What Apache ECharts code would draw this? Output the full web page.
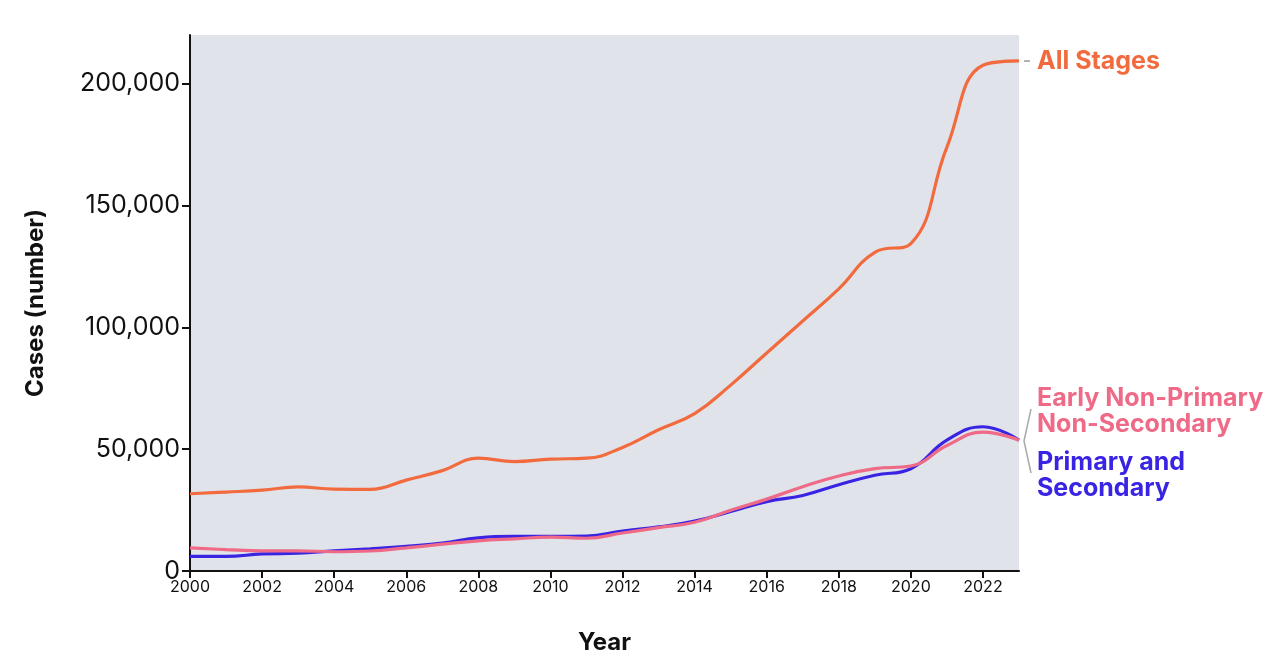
<!DOCTYPE html>
<html>
<head>
<meta charset="utf-8">
<script src="https://cdn.jsdelivr.net/npm/echarts@6/dist/echarts.min.js"></script>
<style>html,body{margin:0;padding:0;background:#fff}#c{width:1280px;height:672px}</style>
</head>
<body>
<div id="c"></div>
<script>
const years = [2000,2001,2002,2003,2004,2005,2006,2007,2008,2009,2010,2011,2012,2013,2014,2015,2016,2017,2018,2019,2020,2021,2022,2023];
const allStages = [31700,32400,33200,34500,33600,33500,37300,41200,46300,44900,45900,46300,50700,58000,64600,76300,89500,102600,115800,130800,134400,174000,207600,209400];
const earlyNonPrimary = [9500,8800,8300,8300,7900,8200,9500,11000,12400,13200,13900,13450,15600,17800,20000,24900,29500,34600,39000,42000,43100,51500,57000,53700];
const primarySecondary = [6000,6000,7000,7300,8300,9100,10100,11500,13600,14200,14200,14300,16400,18100,20500,24400,28500,31000,35400,39300,42000,53700,59200,53700];
const yTicks = [0,50000,100000,150000,200000];
const xTicks = [2000,2002,2004,2006,2008,2010,2012,2014,2016,2018,2020,2022];

const pair = arr => years.map((y,i)=>[y,arr[i]]);
const chart = echarts.init(document.getElementById('c'));
const FONT = 'Inter';
function lineSeries(name, arr, color, z){
  return {name, type:'line', data:pair(arr), smooth:0.45, showSymbol:false, symbol:'none',
    lineStyle:{color, width:3.2}, itemStyle:{color}, z};
}
chart.setOption({
  animation:false,
  grid:{left:190, right:261, top:35, bottom:101, show:true, backgroundColor:'#e1e3ea', borderWidth:0, containLabel:false},
  xAxis:{type:'value', min:2000, max:2023, interval:2,
    name:'Year', nameLocation:'middle', nameGap:60,
    nameTextStyle:{fontFamily:FONT, fontWeight:'bold', fontSize:24, color:'#111'},
    axisLine:{show:true, lineStyle:{color:'#111', width:2}},
    axisTick:{show:true, length:7, lineStyle:{color:'#111', width:2}, customValues:xTicks},
    axisLabel:{fontFamily:FONT, fontSize:16, color:'#111', margin:8, customValues:xTicks, formatter:v=>String(v)},
    splitLine:{show:false}},
  yAxis:{type:'value', min:0, max:220000, interval:50000,
    name:'Cases (number)', nameLocation:'middle', nameGap:142, nameRotate:90,
    nameTextStyle:{fontFamily:FONT, fontWeight:'bold', fontSize:24, color:'#111'},
    axisLine:{show:true, lineStyle:{color:'#111', width:2}},
    axisTick:{show:true, length:8, lineStyle:{color:'#111', width:2}, customValues:yTicks},
    axisLabel:{fontFamily:FONT, fontSize:25, color:'#111', margin:10, customValues:yTicks, formatter:v=>v.toLocaleString('en-US')},
    splitLine:{show:false}},
  series:[
    lineSeries('Primary and Secondary', primarySecondary, '#3a24e4', 3),
    lineSeries('Early Non-Primary Non-Secondary', earlyNonPrimary, '#ee6a86', 4),
    lineSeries('All Stages', allStages, '#f26b3f', 5)
  ],
  graphic:[
    {type:'line', shape:{x1:1024,y1:61,x2:1030,y2:61}, style:{stroke:'#999', lineWidth:1.5}},
    {type:'text', left:1037, top:49, style:{text:'All Stages', fill:'#f26b3f', font:'bold 25px Inter'}},
    {type:'polyline', shape:{points:[[1031,409],[1024,441],[1031,473]]}, style:{stroke:'#aaa', lineWidth:1.5, fill:null}},
    {type:'text', left:1037, top:385, style:{text:'Early Non-Primary\nNon-Secondary', fill:'#ee6a86', font:'bold 25px Inter', lineHeight:26}},
    {type:'text', left:1037, top:449, style:{text:'Primary and\nSecondary', fill:'#3a24e4', font:'bold 25px Inter', lineHeight:26}}
  ]
});
</script>
</body>
</html>
